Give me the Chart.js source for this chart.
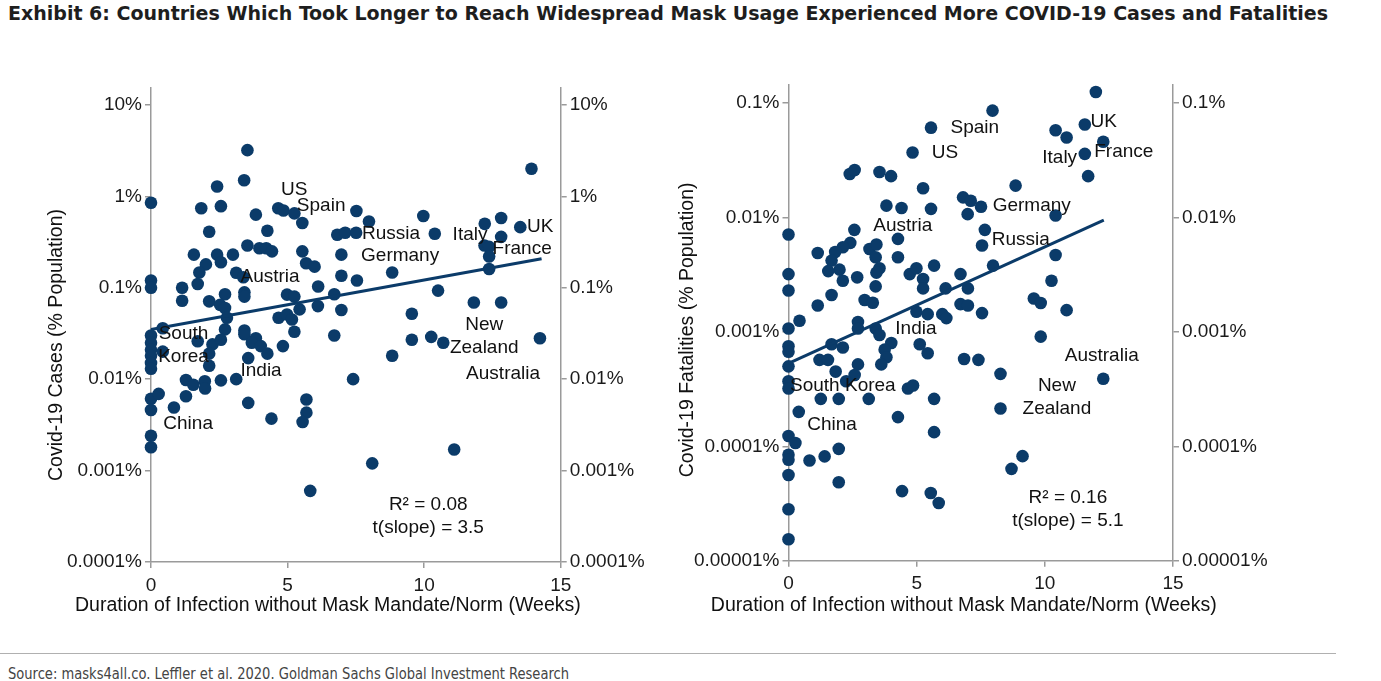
<!DOCTYPE html>
<html>
<head>
<meta charset="utf-8">
<script src="https://cdn.jsdelivr.net/npm/chart.js@4.4.0/dist/chart.umd.min.js"></script>
<style>
body{margin:0;background:#fff;width:1381px;height:681px;overflow:hidden;position:relative;font-family:"Liberation Sans",Arial,sans-serif}
#title{position:absolute;left:8px;top:2px;font:bold 19px "Liberation Sans Narrow","DejaVu Sans Condensed",sans-serif;color:#1e1e1e;white-space:nowrap;transform-origin:0 0}
#rule{position:absolute;left:0;top:653px;width:1336px;height:0;border-top:1.5px solid #b0b0b0}
#source{position:absolute;left:8px;top:665px;font:15px "Liberation Sans Narrow","DejaVu Sans Condensed",sans-serif;color:#444;white-space:nowrap;transform-origin:0 0}
#c1{position:absolute;left:20px;top:60px}
#c2{position:absolute;left:650px;top:60px}
</style>
</head>
<body>
<div id="title">Exhibit 6: Countries Which Took Longer to Reach Widespread Mask Usage Experienced More COVID-19 Cases and Fatalities</div>
<canvas id="c1" width="650" height="570"></canvas>
<canvas id="c2" width="700" height="570"></canvas>
<div id="rule"></div>
<div id="source">Source: masks4all.co. Leffler et al. 2020. Goldman Sachs Global Investment Research</div>
<script>
// left panel: cases
var caseWeeks = [3.53,3.41,2.42,0,1.84,2.56,3.84,4.66,4.85,5.25,5.54,7.52,2.13,4.26,6.82,7.11,7.51,3.53,3.97,4.22,4.43,5.54,6.97,1.57,2.42,2.56,3.0,2.01,1.77,1.71,3.12,3.38,5.68,5.99,6.97,6.12,0,0,1.14,7.54,2.71,3.42,3.42,4.98,5.25,6.71,13.93,7.98,9.97,10.39,12.22,12.82,13.52,12.82,12.21,12.38,12.38,12.38,8.83,10.51,1.14,2.13,2.53,2.71,2.78,2.71,6.11,5.44,4.67,4.98,5.16,5.25,6.71,6.97,0.43,0,0,0,0,0,0,0.43,1.71,2.25,2.56,2.13,2.13,3.42,3.42,3.84,3.69,4.02,4.26,4.83,3.56,1.28,1.55,1.97,1.98,2.56,3.12,7.40,0,0,0.28,1.28,0.84,3.56,5.69,5.69,5.55,4.41,0,0,5.83,11.82,12.82,9.55,9.55,10.26,10.70,8.83,14.24,11.10,8.10];
var casePct = [3.2,1.5,1.28,0.85,0.74,0.78,0.63,0.74,0.70,0.65,0.51,0.69,0.41,0.42,0.38,0.40,0.40,0.29,0.27,0.27,0.25,0.25,0.23,0.23,0.23,0.19,0.23,0.18,0.147,0.11,0.146,0.13,0.185,0.17,0.135,0.103,0.12,0.10,0.10,0.12,0.085,0.089,0.080,0.084,0.080,0.085,2.0,0.53,0.61,0.39,0.50,0.58,0.46,0.36,0.29,0.28,0.22,0.16,0.147,0.093,0.072,0.071,0.065,0.060,0.047,0.035,0.063,0.058,0.047,0.051,0.045,0.033,0.030,0.057,0.036,0.030,0.025,0.021,0.018,0.015,0.013,0.020,0.026,0.024,0.027,0.019,0.014,0.034,0.031,0.028,0.025,0.023,0.019,0.023,0.017,0.0098,0.0087,0.0095,0.0079,0.0097,0.010,0.010,0.0061,0.0046,0.0069,0.0065,0.0049,0.0055,0.0060,0.0043,0.0034,0.0037,0.0024,0.0018,0.0006,0.069,0.069,0.052,0.027,0.029,0.025,0.018,0.028,0.0017,0.0012];
var caseTrendWeeks = [0, 14.3];
var caseTrendPct = [0.035, 0.207];
var caseTicks = [0.0001, 0.001, 0.01, 0.1, 1, 10];
var caseTickLabels = ['0.0001%', '0.001%', '0.01%', '0.1%', '1%', '10%'];
var caseNotes = [
    {text: 'US', x: 5.24, y: 1.17},
    {text: 'Spain', x: 6.23, y: 0.79},
    {text: 'Austria', x: 4.36, y: 0.131},
    {text: 'Russia', x: 8.79, y: 0.39},
    {text: 'Germany', x: 9.12, y: 0.223},
    {text: 'Italy', x: 11.68, y: 0.38},
    {text: 'UK', x: 14.25, y: 0.47},
    {text: 'France', x: 13.59, y: 0.265},
    {text: 'South\nKorea', x: 1.19, y: 0.0237},
    {text: 'India', x: 4.03, y: 0.0123},
    {text: 'China', x: 1.36, y: 0.00324},
    {text: 'New\nZealand', x: 12.2, y: 0.0293},
    {text: 'Australia', x: 12.89, y: 0.0114},
    {text: 'R\u00b2 = 0.08\nt(slope) = 3.5', x: 10.15, y: 0.000318}
];

// right panel: fatalities
var deathWeeks = [11.99,7.96,5.56,4.84,10.42,10.85,11.56,12.28,11.56,11.69,2.39,2.58,3.55,4.0,5.25,8.86,6.81,7.11,7.51,6.99,3.82,4.41,5.56,10.42,0,2.57,7.66,4.27,2.41,2.12,1.82,1.68,1.99,1.55,1.14,3.16,3.43,3.40,3.55,3.43,4.27,7.55,0,4.73,4.99,5.68,5.25,6.71,2.12,2.68,10.42,7.98,10.26,0,3.40,5.25,6.13,7.0,1.68,1.14,2.97,3.29,6.71,7.0,7.55,4.99,5.43,6.0,6.16,0.43,0,2.71,2.71,3.40,3.55,4.01,3.75,3.82,3.62,1.68,2.12,5.12,5.43,0,0,0,1.21,1.54,2.71,6.85,7.41,1.84,2.58,2.25,0,0,4.66,4.86,1.26,1.96,3.13,5.68,0.40,4.27,5.68,0,0.27,0,0,0.82,1.41,1.96,0,1.96,4.43,5.55,5.86,0,0,9.57,9.84,10.85,9.84,8.27,12.28,8.27,9.13,8.70];
var deathPct = [0.125,0.086,0.061,0.037,0.058,0.050,0.065,0.046,0.036,0.023,0.024,0.026,0.025,0.023,0.018,0.019,0.015,0.014,0.0124,0.0107,0.0127,0.0121,0.0119,0.0104,0.0071,0.0078,0.0078,0.0065,0.0060,0.0055,0.0050,0.0042,0.0035,0.0034,0.0049,0.0053,0.0058,0.0045,0.0036,0.0033,0.0045,0.0057,0.0032,0.0032,0.0036,0.0038,0.0029,0.0032,0.0028,0.0030,0.0047,0.0038,0.0028,0.0023,0.0025,0.0024,0.0024,0.0024,0.0021,0.0017,0.0019,0.0018,0.00175,0.0017,0.00146,0.0015,0.00143,0.00143,0.00132,0.00125,0.00107,0.00122,0.00107,0.00107,0.00094,0.00080,0.00070,0.00060,0.00052,0.00078,0.00073,0.00078,0.00065,0.00075,0.00067,0.00050,0.00057,0.00057,0.00052,0.00058,0.00057,0.00045,0.00042,0.00037,0.00037,0.00032,0.00032,0.00034,0.00026,0.00026,0.00026,0.00026,0.00020,0.00018,0.000133,0.000123,0.000107,0.0000843,0.0000762,0.0000752,0.0000816,0.000095,0.0000562,0.0000485,0.0000406,0.0000391,0.0000319,0.0000282,0.0000154,0.00196,0.00179,0.00155,0.00091,0.00043,0.00039,0.000214,0.000082,0.0000635];
var deathTrendWeeks = [0, 12.3];
var deathTrendPct = [0.00053, 0.0095];
var deathTicks = [0.00001, 0.0001, 0.001, 0.01, 0.1];
var deathTickLabels = ['0.00001%', '0.0001%', '0.001%', '0.01%', '0.1%'];
var deathNotes = [
    {text: 'Spain', x: 7.27, y: 0.0605},
    {text: 'US', x: 6.10, y: 0.0366},
    {text: 'UK', x: 12.30, y: 0.0682},
    {text: 'Italy', x: 10.58, y: 0.0330},
    {text: 'France', x: 13.08, y: 0.0373},
    {text: 'Germany', x: 9.49, y: 0.0126},
    {text: 'Austria', x: 4.46, y: 0.00841},
    {text: 'Russia', x: 9.06, y: 0.00634},
    {text: 'India', x: 4.97, y: 0.00106},
    {text: 'South Korea', x: 2.12, y: 0.000336},
    {text: 'China', x: 1.70, y: 0.000153},
    {text: 'Australia', x: 12.22, y: 0.000614},
    {text: 'New\nZealand', x: 10.47, y: 0.000267},
    {text: 'R\u00b2 = 0.16\nt(slope) = 5.1', x: 10.90, y: 0.000028}
];

var xTicks = [0, 5, 10, 15];
var xTitle = 'Duration of Infection without Mask Mandate/Norm (Weeks)';

var NAVY = '#0b3b69';
var AXIS = '#9a9a9a';
var FONT = '"Liberation Sans", Arial, sans-serif';

function pairs(xs, ys) {
    return xs.map(function (x, i) { return {x: x, y: ys[i]}; });
}

function notesPlugin(notes, yTitle, t) {
    return {
        id: 'notes',
        afterDraw: function (chart) {
            var ctx = chart.ctx, xs = chart.scales.x, ys = chart.scales.y, a = chart.chartArea;
            ctx.save();
            ctx.fillStyle = '#111';
            ctx.font = '19px ' + FONT;
            ctx.textAlign = 'center';
            ctx.textBaseline = 'middle';
            notes.forEach(function (n) {
                var lines = n.text.split('\n');
                var px = xs.getPixelForValue(n.x), py = ys.getPixelForValue(n.y);
                lines.forEach(function (l, i) {
                    ctx.fillText(l, px, py + (i - (lines.length - 1) / 2) * 23);
                });
            });
            ctx.font = '19.5px ' + FONT;
            ctx.fillText(xTitle, (a.left + a.right) / 2 + t.dx, t.xy);
            ctx.translate(t.yx, (a.top + a.bottom) / 2 + t.dy);
            ctx.rotate(-Math.PI / 2);
            ctx.fillText(yTitle, 0, 0);
            ctx.restore();
        }
    };
}

function logAxis(pos, ticks, labels, max, width) {
    return {
        type: 'logarithmic',
        position: pos,
        min: ticks[0],
        max: max,
        afterBuildTicks: function (s) { s.ticks = ticks.map(function (v) { return {value: v}; }); },
        afterFit: function (s) { s.width = width; },
        ticks: {
            color: '#1a1a1a',
            font: {family: FONT, size: 19},
            padding: 3,
            autoSkip: false,
            callback: function (v) { return labels[ticks.indexOf(v)]; }
        },
        grid: {drawOnChartArea: false, drawTicks: true, tickLength: 6, color: AXIS, lineWidth: 1.5},
        border: {display: true, color: AXIS, width: 1.5}
    };
}

function createPanel(canvasId, xs, ys, tx, ty, ticks, labels, max, leftW, rightW, bottomH, topPad, notes, yTitle, t) {
    return new Chart(document.getElementById(canvasId), {
        type: 'scatter',
        data: {
            datasets: [{
                data: pairs(tx, ty),
                showLine: true,
                borderColor: NAVY,
                borderWidth: 3,
                pointRadius: 0,
                clip: false,
                order: 0
            }, {
                data: pairs(xs, ys),
                backgroundColor: NAVY,
                borderColor: NAVY,
                borderWidth: 0,
                pointRadius: 6.3,
                clip: false,
                order: 1
            }]
        },
        options: {
            responsive: false,
            animation: false,
            layout: {padding: {top: topPad, left: 0, right: 0, bottom: 0}},
            plugins: {legend: {display: false}, tooltip: {enabled: false}},
            scales: {
                x: {
                    type: 'linear',
                    min: 0,
                    max: 15,
                    afterBuildTicks: function (s) { s.ticks = xTicks.map(function (v) { return {value: v}; }); },
                    afterFit: function (s) { s.height = bottomH; },
                    ticks: {color: '#1a1a1a', font: {family: FONT, size: 19}, padding: 6},
                    grid: {drawOnChartArea: false, drawTicks: true, tickLength: 6, color: AXIS, lineWidth: 1.5},
                    border: {display: true, color: AXIS, width: 1.5}
                },
                y: logAxis('left', ticks, labels, max, leftW),
                y2: logAxis('right', ticks, labels, max, rightW)
            }
        },
        plugins: [notesPlugin(notes, yTitle, t)]
    });
}

createPanel('c1', caseWeeks, casePct, caseTrendWeeks, caseTrendPct, caseTicks, caseTickLabels,
    15.3, 131, 109.3, 68, 28, caseNotes, 'Covid-19 Cases (% Population)', {dx: -28, xy: 546, yx: 37, dy: 20});
createPanel('c2', deathWeeks, deathPct, deathTrendWeeks, deathTrendPct, deathTicks, deathTickLabels,
    0.144, 138.5, 177, 69.3, 25, deathNotes, 'Covid-19 Fatalities (% Population)', {dx: -17, xy: 546, yx: 38, dy: 7});

function fit(id, w) {
    var el = document.getElementById(id);
    var r = el.getBoundingClientRect().width;
    el.style.transform = 'scaleX(' + (w / r) + ')';
}
fit('title', 1320);
fit('source', 561);
</script>
</body>
</html>
